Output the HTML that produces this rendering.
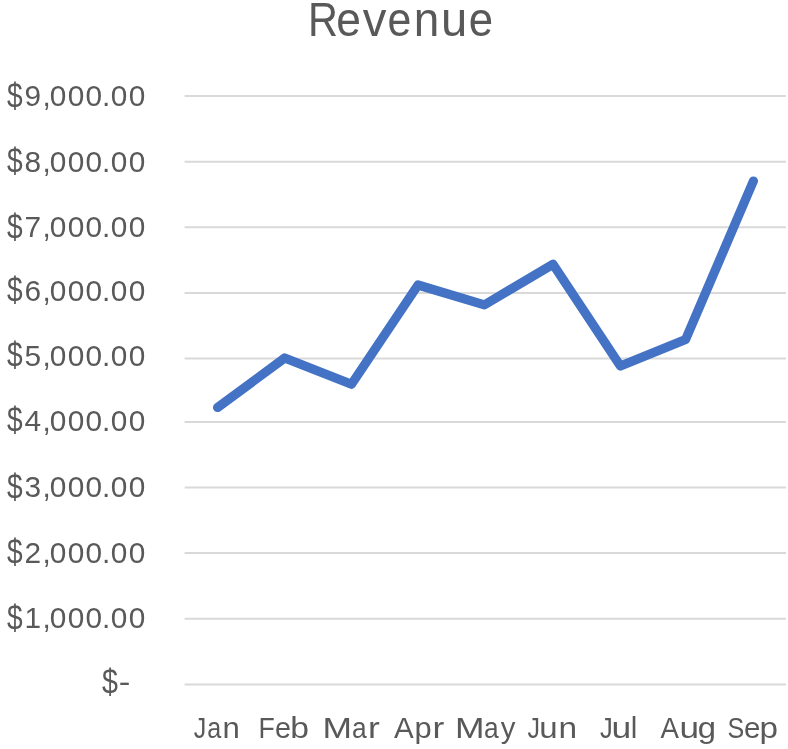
<!DOCTYPE html><html><head><meta charset="utf-8"><style>html,body{margin:0;padding:0;background:#fff;width:788px;height:749px;overflow:hidden}svg{display:block;will-change:transform}text{font-family:"Liberation Sans",sans-serif;fill:#595959}</style></head><body>
<svg width="788" height="749" viewBox="0 0 788 749">
<rect width="788" height="749" fill="#fff"/>
<line x1="184.6" y1="96.1" x2="786.0" y2="96.1" stroke="#D9D9D9" stroke-width="2"/>
<line x1="184.6" y1="161.8" x2="786.0" y2="161.8" stroke="#D9D9D9" stroke-width="2"/>
<line x1="184.6" y1="227.3" x2="786.0" y2="227.3" stroke="#D9D9D9" stroke-width="2"/>
<line x1="184.6" y1="292.9" x2="786.0" y2="292.9" stroke="#D9D9D9" stroke-width="2"/>
<line x1="184.6" y1="358.5" x2="786.0" y2="358.5" stroke="#D9D9D9" stroke-width="2"/>
<line x1="184.6" y1="421.9" x2="786.0" y2="421.9" stroke="#D9D9D9" stroke-width="2"/>
<line x1="184.6" y1="487.6" x2="786.0" y2="487.6" stroke="#D9D9D9" stroke-width="2"/>
<line x1="184.6" y1="553.0" x2="786.0" y2="553.0" stroke="#D9D9D9" stroke-width="2"/>
<line x1="184.6" y1="618.8" x2="786.0" y2="618.8" stroke="#D9D9D9" stroke-width="2"/>
<line x1="184.6" y1="684.4" x2="786.0" y2="684.4" stroke="#D9D9D9" stroke-width="2"/>
<path d="M217.6,407.5 L284.7,358.0 L351.5,384.2 L418.0,285.0 L484.4,304.9 L553.0,264.2 L620.4,366.0 L685.6,339.5 L753.4,181.0" fill="none" stroke="#4472C4" stroke-width="9.2" stroke-linecap="round" stroke-linejoin="round"/>
<text transform="translate(307.94,35.80) scale(0.850,1.000)" font-size="48.8">R</text>
<text transform="translate(336.22,35.80) scale(0.909,1.000)" font-size="48.8">e</text>
<text transform="translate(362.80,35.80) scale(0.971,1.000)" font-size="48.8">v</text>
<text transform="translate(387.48,35.80) scale(0.879,1.000)" font-size="48.8">e</text>
<text transform="translate(413.85,35.80) scale(0.941,1.000)" font-size="48.8">n</text>
<text transform="translate(440.97,35.80) scale(0.967,1.000)" font-size="48.8">u</text>
<text transform="translate(468.65,35.80) scale(0.897,1.000)" font-size="48.8">e</text>
<text transform="translate(6.92,107.68) scale(0.943,1.183)" font-size="29.8">$</text>
<text x="24.46" y="106.2" font-size="29.8">9</text>
<text x="42.53" y="106.2" font-size="29.8">,</text>
<text x="49.81" y="106.2" font-size="29.8">0</text>
<text x="67.71" y="106.2" font-size="29.8">0</text>
<text x="85.61" y="106.2" font-size="29.8">0</text>
<text x="101.88" y="106.2" font-size="29.8">.</text>
<text x="110.76" y="106.2" font-size="29.8">0</text>
<text x="128.81" y="106.2" font-size="29.8">0</text>
<text transform="translate(6.92,172.98) scale(0.943,1.183)" font-size="29.8">$</text>
<text x="24.46" y="171.5" font-size="29.8">8</text>
<text x="42.53" y="171.5" font-size="29.8">,</text>
<text x="49.81" y="171.5" font-size="29.8">0</text>
<text x="67.71" y="171.5" font-size="29.8">0</text>
<text x="85.61" y="171.5" font-size="29.8">0</text>
<text x="101.88" y="171.5" font-size="29.8">.</text>
<text x="110.76" y="171.5" font-size="29.8">0</text>
<text x="128.81" y="171.5" font-size="29.8">0</text>
<text transform="translate(6.92,238.58) scale(0.943,1.183)" font-size="29.8">$</text>
<text x="24.46" y="237.1" font-size="29.8">7</text>
<text x="42.53" y="237.1" font-size="29.8">,</text>
<text x="49.81" y="237.1" font-size="29.8">0</text>
<text x="67.71" y="237.1" font-size="29.8">0</text>
<text x="85.61" y="237.1" font-size="29.8">0</text>
<text x="101.88" y="237.1" font-size="29.8">.</text>
<text x="110.76" y="237.1" font-size="29.8">0</text>
<text x="128.81" y="237.1" font-size="29.8">0</text>
<text transform="translate(6.92,301.98) scale(0.943,1.183)" font-size="29.8">$</text>
<text x="24.46" y="300.5" font-size="29.8">6</text>
<text x="42.53" y="300.5" font-size="29.8">,</text>
<text x="49.81" y="300.5" font-size="29.8">0</text>
<text x="67.71" y="300.5" font-size="29.8">0</text>
<text x="85.61" y="300.5" font-size="29.8">0</text>
<text x="101.88" y="300.5" font-size="29.8">.</text>
<text x="110.76" y="300.5" font-size="29.8">0</text>
<text x="128.81" y="300.5" font-size="29.8">0</text>
<text transform="translate(6.92,367.48) scale(0.943,1.183)" font-size="29.8">$</text>
<text x="24.46" y="366.0" font-size="29.8">5</text>
<text x="42.53" y="366.0" font-size="29.8">,</text>
<text x="49.81" y="366.0" font-size="29.8">0</text>
<text x="67.71" y="366.0" font-size="29.8">0</text>
<text x="85.61" y="366.0" font-size="29.8">0</text>
<text x="101.88" y="366.0" font-size="29.8">.</text>
<text x="110.76" y="366.0" font-size="29.8">0</text>
<text x="128.81" y="366.0" font-size="29.8">0</text>
<text transform="translate(6.92,432.38) scale(0.943,1.183)" font-size="29.8">$</text>
<text x="24.46" y="430.9" font-size="29.8">4</text>
<text x="42.53" y="430.9" font-size="29.8">,</text>
<text x="49.81" y="430.9" font-size="29.8">0</text>
<text x="67.71" y="430.9" font-size="29.8">0</text>
<text x="85.61" y="430.9" font-size="29.8">0</text>
<text x="101.88" y="430.9" font-size="29.8">.</text>
<text x="110.76" y="430.9" font-size="29.8">0</text>
<text x="128.81" y="430.9" font-size="29.8">0</text>
<text transform="translate(6.92,498.88) scale(0.943,1.183)" font-size="29.8">$</text>
<text x="24.46" y="497.4" font-size="29.8">3</text>
<text x="42.53" y="497.4" font-size="29.8">,</text>
<text x="49.81" y="497.4" font-size="29.8">0</text>
<text x="67.71" y="497.4" font-size="29.8">0</text>
<text x="85.61" y="497.4" font-size="29.8">0</text>
<text x="101.88" y="497.4" font-size="29.8">.</text>
<text x="110.76" y="497.4" font-size="29.8">0</text>
<text x="128.81" y="497.4" font-size="29.8">0</text>
<text transform="translate(6.92,564.08) scale(0.943,1.183)" font-size="29.8">$</text>
<text x="24.46" y="562.6" font-size="29.8">2</text>
<text x="42.53" y="562.6" font-size="29.8">,</text>
<text x="49.81" y="562.6" font-size="29.8">0</text>
<text x="67.71" y="562.6" font-size="29.8">0</text>
<text x="85.61" y="562.6" font-size="29.8">0</text>
<text x="101.88" y="562.6" font-size="29.8">.</text>
<text x="110.76" y="562.6" font-size="29.8">0</text>
<text x="128.81" y="562.6" font-size="29.8">0</text>
<text transform="translate(6.92,629.88) scale(0.943,1.183)" font-size="29.8">$</text>
<text x="24.46" y="628.4" font-size="29.8">1</text>
<text x="42.53" y="628.4" font-size="29.8">,</text>
<text x="49.81" y="628.4" font-size="29.8">0</text>
<text x="67.71" y="628.4" font-size="29.8">0</text>
<text x="85.61" y="628.4" font-size="29.8">0</text>
<text x="101.88" y="628.4" font-size="29.8">.</text>
<text x="110.76" y="628.4" font-size="29.8">0</text>
<text x="128.81" y="628.4" font-size="29.8">0</text>
<text transform="translate(101.91,693.78) scale(0.962,1.183)" font-size="29.8">$</text>
<text transform="translate(118.71,692.30) scale(1.168,1.000)" font-size="29.8">-</text>
<text transform="translate(193.68,737.50) scale(0.850,1.000)" font-size="29.5">J</text>
<text transform="translate(207.23,737.50) scale(0.850,1.000)" font-size="29.5">a</text>
<text transform="translate(222.43,737.50) scale(1.055,1.000)" font-size="29.5">n</text>
<text transform="translate(258.57,737.50) scale(0.902,1.000)" font-size="29.5">F</text>
<text transform="translate(275.05,737.50) scale(0.975,1.000)" font-size="29.5">e</text>
<text transform="translate(290.18,737.50) scale(1.142,1.000)" font-size="29.5">b</text>
<text transform="translate(322.48,737.50) scale(1.200,1.000)" font-size="29.5">M</text>
<text transform="translate(352.05,737.50) scale(0.893,1.000)" font-size="29.5">a</text>
<text transform="translate(367.92,737.50) scale(1.200,1.000)" font-size="29.5">r</text>
<text transform="translate(394.00,737.50) scale(1.002,1.000)" font-size="29.5">A</text>
<text transform="translate(414.55,737.50) scale(1.046,1.000)" font-size="29.5">p</text>
<text transform="translate(432.52,737.50) scale(1.200,1.000)" font-size="29.5">r</text>
<text transform="translate(454.93,737.50) scale(1.200,1.000)" font-size="29.5">M</text>
<text transform="translate(483.95,737.50) scale(0.893,1.000)" font-size="29.5">a</text>
<text transform="translate(500.80,737.50) scale(0.997,1.000)" font-size="29.5">y</text>
<text transform="translate(527.43,737.50) scale(0.850,1.000)" font-size="29.5">J</text>
<text transform="translate(539.32,737.50) scale(1.119,1.000)" font-size="29.5">u</text>
<text transform="translate(558.60,737.50) scale(1.133,1.000)" font-size="29.5">n</text>
<text transform="translate(599.95,737.50) scale(0.864,1.000)" font-size="29.5">J</text>
<text transform="translate(611.56,737.50) scale(1.200,1.000)" font-size="29.5">u</text>
<text x="630.71" y="737.5" font-size="29.5">l</text>
<text transform="translate(660.50,737.50) scale(0.936,1.000)" font-size="29.5">A</text>
<text transform="translate(679.49,737.50) scale(1.190,1.000)" font-size="29.5">u</text>
<text transform="translate(697.69,737.50) scale(1.113,1.000)" font-size="29.5">g</text>
<text transform="translate(727.60,737.50) scale(0.850,1.000)" font-size="29.5">S</text>
<text transform="translate(743.92,737.50) scale(1.003,1.000)" font-size="29.5">e</text>
<text transform="translate(759.50,737.50) scale(1.127,1.000)" font-size="29.5">p</text>
</svg></body></html>
